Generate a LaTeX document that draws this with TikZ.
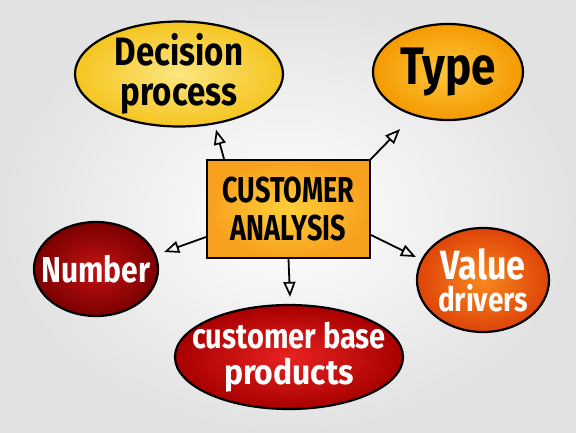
\documentclass[tikz,border=0pt]{standalone}
\usepackage{fontspec}
\setmainfont{Fira Sans}
\usetikzlibrary{shapes.geometric,arrows.meta,calc}
\definecolor{bgedge}{HTML}{E2E2E2}
\definecolor{yelout}{HTML}{F5C520}
\definecolor{yelin}{HTML}{FCE680}
\definecolor{typout}{HTML}{F49A00}
\definecolor{typin}{HTML}{FFC640}
\definecolor{recout}{HTML}{F7A01E}
\definecolor{recin}{HTML}{FFCF3A}
\definecolor{numout}{HTML}{7A0000}
\definecolor{numin}{HTML}{C41212}
\definecolor{valout}{HTML}{DF4408}
\definecolor{valin}{HTML}{F8881E}
\definecolor{cbout}{HTML}{A80000}
\definecolor{cbin}{HTML}{E82222}
\tikzset{
  bubble/.style={ellipse, draw=black, line width=2.2pt, inner sep=0pt},
  boxnode/.style={rectangle, draw=black, line width=2pt, inner sep=0pt},
  lbl/.style={inner sep=0pt, align=center, font=\bfseries},
  arr/.style={line width=1.8pt, -{Triangle[open, length=15pt, width=12pt, line width=1.7pt]}}
}
\newcommand{\tall}[2]{\scalebox{#1}[1.2]{#2}}
\begin{document}
\begin{tikzpicture}[x=1pt,y=-1pt]
\shade[inner color=white, outer color=bgedge] (0,0) rectangle (576,432);
\useasboundingbox (0,0) rectangle (576,432);

\node[bubble, minimum width=208pt, minimum height=105pt, inner color=yelin, outer color=yelout] (dp) at (179,74) {};
\node[lbl, font=\bfseries\fontsize{33}{40}\selectfont] (dpt) at (dp) {\tall{1}{Decision}\\\tall{1}{process}};

\node[bubble, minimum width=150pt, minimum height=96pt, inner color=typin, outer color=typout] (type) at (448,72) {};
\node[lbl, font=\bfseries\fontsize{44}{44}\selectfont] (typet) at (type) {\tall{1}{Type}};

\node[boxnode, minimum width=163pt, minimum height=98pt, inner color=recin, outer color=recout] (ca) at (288.5,209) {};
\node[lbl, font=\bfseries\fontsize{30}{38}\selectfont] (cat) at (ca) {\tall{0.9}{CUSTOMER}\\\tall{0.9}{ANALYSIS}};

\node[bubble, minimum width=124pt, minimum height=94pt, inner color=numin, outer color=numout] (num) at (96,269) {};
\node[lbl, text=white, font=\bfseries\fontsize{30}{30}\selectfont] (numt) at (num) {\tall{1}{Number}};

\node[bubble, minimum width=132pt, minimum height=104pt, inner color=valin, outer color=valout] (val) at (483,280) {};
\node[lbl, text=white, font=\bfseries\fontsize{34}{36}\selectfont] (valt) at ([yshift=16pt]val) {\tall{1}{Value}};
\node[lbl, text=white, font=\bfseries\fontsize{28}{30}\selectfont] (valt2) at ([yshift=-18pt]val) {\tall{1}{drivers}};

\node[bubble, minimum width=228pt, minimum height=104pt, inner color=cbin, outer color=cbout] (cbp) at (289,357) {};
\node[lbl, text=white, font=\bfseries\fontsize{29}{36}\selectfont] (cbpt) at (cbp) {\tall{1}{customer base}\\\tall{1.1}{products}};

\draw[arr] ([xshift=18pt]ca.north west) -- ([xshift=37pt,yshift=-2pt]dp.south);
\draw[arr] ([xshift=-2pt,yshift=-2pt]ca.north east) -- ([xshift=-48pt,yshift=-8pt]type.south);
\draw[arr] ([yshift=-28pt]ca.west) -- ([xshift=5pt,yshift=17pt]num.east);
\draw[arr] ([yshift=-26pt]ca.east) -- ([yshift=23pt]val.west);
\draw[arr] (ca.south) -- ([xshift=1pt,yshift=7pt]cbp.north);
\end{tikzpicture}
\end{document}
